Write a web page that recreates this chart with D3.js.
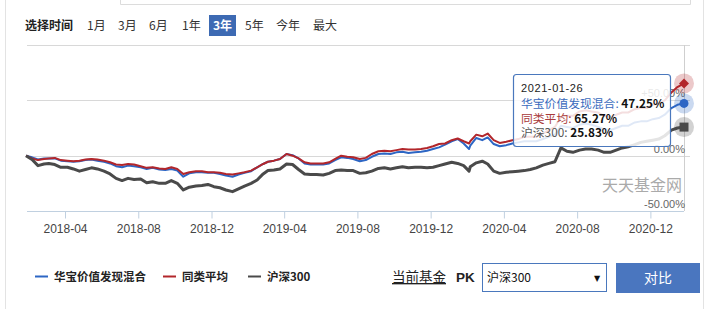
<!DOCTYPE html>
<html><head><meta charset="utf-8">
<script src="https://cdn.jsdelivr.net/npm/d3@7"></script>
<style>
html,body{margin:0;padding:0;background:#fff;}
svg{display:block;}
</style></head>
<body><svg id="c" width="716" height="309"></svg>
<script>
const dates = [
"2018-01-26","2018-02-05","2018-02-15","2018-02-25","2018-03-05","2018-03-15","2018-03-25","2018-04-05","2018-04-15","2018-04-25","2018-05-05","2018-05-15","2018-05-25","2018-06-05","2018-06-15","2018-06-25","2018-07-05","2018-07-15","2018-07-25","2018-08-05","2018-08-15","2018-08-25","2018-09-05","2018-09-15","2018-09-25","2018-10-05","2018-10-15","2018-10-25","2018-11-05","2018-11-15","2018-11-25","2018-12-05","2018-12-15","2018-12-25",
"2019-01-05","2019-01-15","2019-01-25","2019-02-05","2019-02-15","2019-02-25","2019-03-05","2019-03-15","2019-03-25","2019-04-05","2019-04-15","2019-04-25","2019-05-05","2019-05-15","2019-05-25","2019-06-05","2019-06-15","2019-06-25","2019-07-05","2019-07-15","2019-07-25","2019-08-05","2019-08-15","2019-08-25","2019-09-05","2019-09-15","2019-09-25","2019-10-05","2019-10-15","2019-10-25","2019-11-05","2019-11-15","2019-11-25","2019-12-05","2019-12-15","2019-12-25",
"2020-01-05","2020-01-15","2020-01-25","2020-02-03","2020-02-05","2020-02-15","2020-02-25","2020-03-05","2020-03-15","2020-03-25","2020-04-05","2020-04-15","2020-04-25","2020-05-05","2020-05-15","2020-05-25","2020-06-05","2020-06-15","2020-06-25","2020-07-05","2020-07-15","2020-07-25","2020-08-05","2020-08-15","2020-08-25","2020-09-05","2020-09-15","2020-09-25","2020-10-05","2020-10-15","2020-10-25","2020-11-05","2020-11-15","2020-11-25","2020-12-05","2020-12-15","2020-12-25",
"2021-01-05","2021-01-15","2021-01-26"];

// 华宝价值发现混合
const fundVals = [
0,-1.5,-3.5,-2.5,-2.5,-2.5,-4.5,-5,-5.5,-5,-4,-3.5,-4.5,-5.5,-7,-9.5,-10.5,-9,-9.5,-10.5,-12,-11,-12.5,-13,-12,-13.5,-19,-16,-15,-15,-15.5,-15.5,-16.5,-18,
-19,-17,-15.5,-14,-10.5,-7.5,-5.5,-4.5,-3,1.5,0.5,-2.5,-7,-8,-8,-8,-7,-4,-1.5,-2,-3,-5,-4,-1,1.5,2,1.5,3,3.5,2.5,3,3.5,4.5,6,7.5,10,
13,15,11,6,9,16,14,16.5,10.5,8.5,9.5,11,12,13,13,13,15,17,19,27,26,25,28,29,28,26,24,23,25,27,27,30,31,31,33,34,37,
43,46,47.25];

// 同类平均
const avgVals = [
0,-2.5,-4,-3,-2.5,-2,-4,-4.5,-5,-4.5,-3.5,-3,-3.5,-4.5,-6,-8,-8.5,-7.5,-8,-9.5,-11,-10.5,-11.5,-12,-10.5,-12,-16.5,-15,-14,-14,-15,-15,-15.5,-16.5,
-17,-16,-15,-13.5,-10.5,-7.5,-5.5,-4.5,-3,1.5,0,-2.5,-6,-7,-7,-7,-6,-3,0,-1,-1.5,-3,-2,1.5,4,4.5,4,5,6,5.5,5.5,6,7,8.5,10.5,11,
14,15.5,13,11,13,19,17.5,20,14,11.5,12.5,14,15,17,17,17,20,23,26,35,36,36,40,41,40,39,36,35,37,39,39,42,43,43,46,47,50,
57,62,65.27];

// 沪深300
const hs300Vals = [
0,-3.5,-9,-7.5,-7,-8,-10.5,-10.5,-12,-14,-12.5,-11,-12,-14,-16.5,-20.5,-22.5,-20.5,-21.5,-21,-24.5,-23.5,-25,-25,-22.5,-25,-31,-28.5,-27.5,-27,-26,-28,-29,-31,
-32.5,-30,-27.5,-25,-22,-16.5,-13.5,-13,-12,-7.5,-8,-12.5,-16.5,-17,-17,-17.5,-16,-13.5,-13,-13.5,-13.5,-16,-15.5,-14,-11.5,-11,-12,-11,-10,-11,-10.5,-10.5,-11,-10.5,-9,-7.5,
-6,-7,-9,-14,-10,-6.5,-5,-7.5,-14,-16,-15,-14.5,-14,-13.5,-12.5,-11,-8.5,-7,-5.5,7,4,3,5,6,6,5,3,3,5,7,8,10,12,13,14,15,18,
23,25,25.83];

const seriesNames = ["华宝价值发现混合","同类平均","沪深300"];
const seriesColors = ["#2d66c4","#b2262b","#4a4a4a"];
const xTickLabels = ["2018-04","2018-08","2018-12","2019-04","2019-08","2019-12","2020-04","2020-08","2020-12"];
const yTickValues = [-50,0,50,100];
const yTickLabels = ["-50.00%","0.00%","+50.00%",""];
const periodLabels = ["1月","3月","6月","1年","3年","5年","今年","最大"];
const tooltipDate = "2021-01-26";

const svg = d3.select("#c");
const parse = d3.timeParse("%Y-%m-%d");
const cjk = "'Noto Sans CJK SC','Noto Sans',sans-serif";
const lat = "'Liberation Sans',Arial,sans-serif";

// frame
svg.append("line").attr("x1",5.5).attr("x2",5.5).attr("y1",0).attr("y2",309).attr("stroke","#e3e3e3");
svg.append("line").attr("x1",703.5).attr("x2",703.5).attr("y1",0).attr("y2",309).attr("stroke","#e3e3e3");
svg.append("path").attr("d","M120.5,0 V4.5 H690.5 V0").attr("fill","none").attr("stroke","#dcdcdc");

// period selector
svg.append("text").attr("x",25).attr("y",30).attr("font-family",cjk).attr("font-size",12).attr("font-weight","bold").attr("fill","#222").text("选择时间");
const periodX = [87,118,149,182,211,245,276,313];
periodLabels.forEach((p,i)=>{
  if(p==="3年"){
    svg.append("rect").attr("x",209).attr("y",15).attr("width",27).attr("height",21).attr("fill","#3d6ab3");
    svg.append("text").attr("x",222.5).attr("y",30).attr("text-anchor","middle").attr("font-family",cjk).attr("font-size",12).attr("font-weight","bold").attr("fill","#fff").text(p);
  } else {
    svg.append("text").attr("x",periodX[i]).attr("y",30).attr("font-family",cjk).attr("font-size",12).attr("fill","#333").text(p);
  }
});

// scales
const x = d3.scaleTime().domain([parse(dates[0]),parse(dates[dates.length-1])]).range([26,684]);
const y = d3.scaleLinear().domain([-50,100]).range([211,45]);

// grid
const g = svg.append("g");
yTickValues.forEach(v=>{
  if(v===-50) return;
  g.append("line").attr("x1",27).attr("x2",690).attr("y1",Math.round(y(v))+0.5).attr("y2",Math.round(y(v))+0.5).attr("stroke","#d8d8d8");
});
g.append("line").attr("x1",684.5).attr("x2",684.5).attr("y1",45).attr("y2",211).attr("stroke","#cfcfcf");

// x axis
const xAxis = d3.axisBottom(x).tickValues(xTickLabels.map(d=>parse(d+"-01"))).tickFormat(d3.timeFormat("%Y-%m")).tickSize(7).tickSizeOuter(0);
const xa = svg.append("g").attr("transform",`translate(0,${Math.round(y(-50))+0.5})`).call(xAxis);
xa.select(".domain").attr("stroke","#c0d0e0").attr("d","M27,0H684");
xa.selectAll(".tick line").attr("stroke","#c0d0e0");
xa.selectAll(".tick text").attr("font-family",lat).attr("font-size",12).attr("fill","#444").attr("dy","0.95em");

// y labels
yTickValues.forEach((v,i)=>{
  if(!yTickLabels[i]) return;
  svg.append("text").attr("x",685).attr("y",y(v)-3).attr("text-anchor","end").attr("font-family",lat).attr("font-size",11).attr("fill","#666").text(yTickLabels[i]);
});

// watermark
svg.append("text").attr("x",682).attr("y",191).attr("text-anchor","end").attr("font-family",cjk).attr("font-size",16).attr("fill","#aaa").text("天天基金网");

// lines
const allVals = [fundVals,avgVals,hs300Vals];
const widths = [2,2,3];
const line = d3.line().x(d=>x(d[0])).y(d=>y(d[1]));
allVals.forEach((vals,k)=>{
  const pts = dates.map((d,i)=>[parse(d),vals[i]]);
  svg.append("path").attr("d",line(pts)).attr("fill","none").attr("stroke",seriesColors[k]).attr("stroke-width",widths[k]).attr("stroke-linejoin","round");
});

// end markers
const lastDate = parse(dates[dates.length-1]);
allVals.forEach((vals,k)=>{
  const cx = x(lastDate), cy = y(vals[vals.length-1]);
  svg.append("circle").attr("cx",cx).attr("cy",cy).attr("r",10).attr("fill",seriesColors[k]).attr("opacity",0.25);
  if(k===0) svg.append("circle").attr("cx",cx).attr("cy",cy).attr("r",4.5).attr("fill",seriesColors[k]);
  if(k===1) svg.append("path").attr("d",`M${cx},${cy-5}L${cx+5},${cy}L${cx},${cy+5}L${cx-5},${cy}Z`).attr("fill",seriesColors[k]);
  if(k===2) svg.append("rect").attr("x",cx-4.5).attr("y",cy-4.5).attr("width",9).attr("height",9).attr("fill",seriesColors[k]);
});

// tooltip
const tt = svg.append("g");
tt.append("rect").attr("x",513.5).attr("y",74.5).attr("width",157).attr("height",72).attr("rx",3).attr("fill","rgba(255,255,255,0.85)").attr("stroke","#4a78bd").attr("stroke-width",1.2);
tt.append("text").attr("x",521).attr("y",92).attr("font-family",lat).attr("font-size",11).attr("fill","#222").attr("letter-spacing","0.6").text(tooltipDate);
const nameColors = ["#3a6bbd","#a83a3a","#555"];
allVals.forEach((vals,k)=>{
  const t = tt.append("text").attr("x",521).attr("y",108+k*14.5).attr("font-family",cjk).attr("font-size",11.8);
  t.append("tspan").attr("fill",nameColors[k]).text(seriesNames[k]+": ");
  t.append("tspan").attr("fill","#111").attr("font-weight","bold").text(vals[vals.length-1].toFixed(2)+"%");
});

// legend
const legX = [35,163,248];
seriesNames.forEach((n,k)=>{
  svg.append("line").attr("x1",legX[k]).attr("x2",legX[k]+13).attr("y1",276.5).attr("y2",276.5).attr("stroke",seriesColors[k]).attr("stroke-width",2);
  svg.append("text").attr("x",legX[k]+19).attr("y",281).attr("font-family",cjk).attr("font-size",11.5).attr("font-weight","bold").attr("fill","#222").text(n);
});

// PK controls
svg.append("text").attr("x",392).attr("y",282).attr("font-family",cjk).attr("font-size",13.5).attr("fill","#222").attr("text-decoration","underline").text("当前基金");
svg.append("text").attr("x",456).attr("y",282).attr("font-family",lat).attr("font-size",13.5).attr("font-weight","bold").attr("fill","#222").text("PK");
svg.append("rect").attr("x",482.5).attr("y",263.5).attr("width",124).attr("height",28).attr("fill","#fff").attr("stroke","#4a78bd");
svg.append("text").attr("x",487).attr("y",282).attr("font-family",cjk).attr("font-size",12).attr("fill","#111").text("沪深300");
svg.append("text").attr("x",597).attr("y",281).attr("text-anchor","middle").attr("font-family","'DejaVu Sans',sans-serif").attr("font-size",8).attr("fill","#111").text("▼");
svg.append("rect").attr("x",616).attr("y",263).attr("width",84).attr("height",30).attr("fill","#4a76bf");
svg.append("text").attr("x",658).attr("y",283).attr("text-anchor","middle").attr("font-family",cjk).attr("font-size",14).attr("fill","#fff").text("对比");
</script>
</body></html>
